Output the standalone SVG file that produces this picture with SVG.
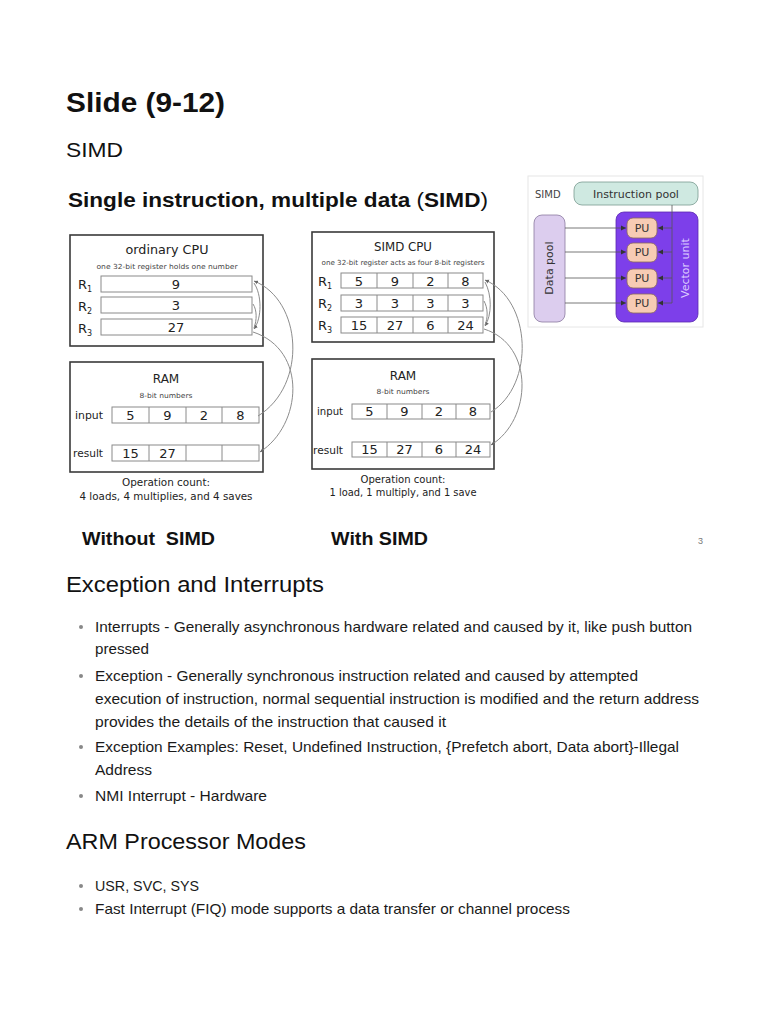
<svg xmlns="http://www.w3.org/2000/svg" width="768" height="1024" viewBox="0 0 768 1024">
<defs>
<style>
.h1{font-family:"Liberation Sans",Arial,sans-serif;font-weight:bold;font-size:28px;fill:#111}
.h2{font-family:"Liberation Sans",Arial,sans-serif;font-size:21px;fill:#111}
.h3{font-family:"Liberation Sans",Arial,sans-serif;font-size:22px;fill:#111}
.body{font-family:"Liberation Sans",Arial,sans-serif;font-size:15px;fill:#1a1a1a}
.bul{fill:#888}
.dv{font-family:"DejaVu Sans",sans-serif}
.box{fill:#fff;stroke:#3a3a3a;stroke-width:1.6}
.cell{fill:#fff;stroke:#8a8a8a;stroke-width:1}
.val{font-family:"DejaVu Sans",sans-serif;font-size:13px;fill:#222;text-anchor:middle}
.curve{fill:none;stroke:#8c8c8c;stroke-width:1}
.pu{fill:#f7cbb4;stroke:#8a6a5a;stroke-width:0.8}
.pul{font-family:"DejaVu Sans",sans-serif;font-size:11px;fill:#333;text-anchor:middle}
.ln{stroke:#555;stroke-width:0.8;fill:none}
.big{font-family:"Liberation Sans",Arial,sans-serif;font-weight:bold;font-size:19px;fill:#111}
</style>
<marker id="ah" markerWidth="6" markerHeight="6" refX="5" refY="3" orient="auto" markerUnits="userSpaceOnUse">
<path d="M0,0.5 L5,3 L0,5.5 Z" fill="#333"/>
</marker>
<marker id="ahs" markerWidth="5" markerHeight="5" refX="4" refY="2.5" orient="auto" markerUnits="userSpaceOnUse">
<path d="M0,0.5 L4,2.5 L0,4.5 Z" fill="#666"/>
</marker>
</defs>
<rect width="768" height="1024" fill="#fff"/>

<g id="page-headings">
<text class="h1" x="66" y="112" textLength="159" lengthAdjust="spacingAndGlyphs">Slide (9-12)</text>
<text class="h2" x="66" y="157" textLength="57" lengthAdjust="spacingAndGlyphs">SIMD</text>
</g>

<g id="figure-title">
<text x="68" y="207" font-family="Liberation Sans, Arial, sans-serif" font-size="20px" fill="#111" textLength="420" lengthAdjust="spacingAndGlyphs"><tspan font-weight="bold">Single instruction, multiple data </tspan><tspan>(</tspan><tspan font-weight="bold">SIMD</tspan><tspan>)</tspan></text>
</g>

<g id="ordinary-cpu">
<rect class="box" x="70" y="235" width="193" height="111"/>
<text class="dv" x="167" y="254" font-size="12" fill="#222" text-anchor="middle" textLength="83" lengthAdjust="spacingAndGlyphs">ordinary CPU</text>
<text class="dv" x="167" y="269" font-size="7" text-anchor="middle" textLength="141" lengthAdjust="spacingAndGlyphs" fill="#444">one 32-bit register holds one number</text>
<text class="dv" x="78" y="289" font-size="13" fill="#222">R<tspan font-size="8" dy="3">1</tspan></text>
<text class="dv" x="78" y="311" font-size="13" fill="#222">R<tspan font-size="8" dy="3">2</tspan></text>
<text class="dv" x="78" y="333" font-size="13" fill="#222">R<tspan font-size="8" dy="3">3</tspan></text>
<rect class="cell" x="101" y="276" width="151" height="16"/>
<rect class="cell" x="101" y="297" width="151" height="16"/>
<rect class="cell" x="101" y="319" width="151" height="16"/>
<text class="val" x="176" y="289">9</text>
<text class="val" x="176" y="310">3</text>
<text class="val" x="176" y="332">27</text>
</g>

<g id="ordinary-ram">
<rect class="box" x="70" y="362" width="193" height="110"/>
<text class="dv" x="166" y="383" font-size="12" fill="#222" text-anchor="middle">RAM</text>
<text class="dv" x="166" y="398" font-size="7" text-anchor="middle" fill="#444" textLength="53" lengthAdjust="spacingAndGlyphs">8-bit numbers</text>
<text class="dv" x="75" y="419" font-size="11" fill="#222" textLength="28" lengthAdjust="spacingAndGlyphs">input</text>
<text class="dv" x="73" y="457" font-size="11" fill="#222" textLength="30" lengthAdjust="spacingAndGlyphs">result</text>
<rect class="cell" x="112" y="407" width="147" height="16"/>
<path d="M149,407V423M186,407V423M222,407V423" stroke="#8a8a8a" stroke-width="1" fill="none"/>
<rect class="cell" x="112" y="445" width="147" height="16"/>
<path d="M149,445V461M186,445V461M222,445V461" stroke="#8a8a8a" stroke-width="1" fill="none"/>
<text class="val" x="130.5" y="420">5</text>
<text class="val" x="167.5" y="420">9</text>
<text class="val" x="204" y="420">2</text>
<text class="val" x="240.5" y="420">8</text>
<text class="val" x="130.5" y="458">15</text>
<text class="val" x="167.5" y="458">27</text>
<text class="dv" x="166" y="486" font-size="11" fill="#222" text-anchor="middle" textLength="88" lengthAdjust="spacingAndGlyphs">Operation count:</text>
<text class="dv" x="166" y="500" font-size="11" fill="#222" text-anchor="middle" textLength="173" lengthAdjust="spacingAndGlyphs">4 loads, 4 multiplies, and 4 saves</text>
</g>

<g id="simd-cpu">
<rect class="box" x="312" y="232" width="182" height="110"/>
<text class="dv" x="403" y="251" font-size="12" fill="#222" text-anchor="middle" textLength="58" lengthAdjust="spacingAndGlyphs">SIMD CPU</text>
<text class="dv" x="403" y="265" font-size="7" text-anchor="middle" fill="#444" textLength="163" lengthAdjust="spacingAndGlyphs">one 32-bit register acts as four 8-bit registers</text>
<text class="dv" x="318" y="286" font-size="13" fill="#222">R<tspan font-size="8" dy="3">1</tspan></text>
<text class="dv" x="318" y="308" font-size="13" fill="#222">R<tspan font-size="8" dy="3">2</tspan></text>
<text class="dv" x="318" y="330" font-size="13" fill="#222">R<tspan font-size="8" dy="3">3</tspan></text>
<rect class="cell" x="341" y="273" width="142" height="15"/>
<rect class="cell" x="341" y="295" width="142" height="16"/>
<rect class="cell" x="341" y="317" width="142" height="16"/>
<path d="M377,273V288M413,273V288M448,273V288M377,295V311M413,295V311M448,295V311M377,317V333M413,317V333M448,317V333" stroke="#8a8a8a" stroke-width="1" fill="none"/>
<text class="val" x="359" y="286">5</text>
<text class="val" x="395" y="286">9</text>
<text class="val" x="430.5" y="286">2</text>
<text class="val" x="465.5" y="286">8</text>
<text class="val" x="359" y="308">3</text>
<text class="val" x="395" y="308">3</text>
<text class="val" x="430.5" y="308">3</text>
<text class="val" x="465.5" y="308">3</text>
<text class="val" x="359" y="330">15</text>
<text class="val" x="395" y="330">27</text>
<text class="val" x="430.5" y="330">6</text>
<text class="val" x="465.5" y="330">24</text>
</g>

<g id="simd-ram">
<rect class="box" x="312" y="359" width="182" height="110"/>
<text class="dv" x="403" y="380" font-size="12" fill="#222" text-anchor="middle">RAM</text>
<text class="dv" x="403" y="394" font-size="7" text-anchor="middle" fill="#444" textLength="53" lengthAdjust="spacingAndGlyphs">8-bit numbers</text>
<text class="dv" x="317" y="415" font-size="11" fill="#222" textLength="26" lengthAdjust="spacingAndGlyphs">input</text>
<text class="dv" x="313" y="454" font-size="11" fill="#222" textLength="30" lengthAdjust="spacingAndGlyphs">result</text>
<rect class="cell" x="352" y="404" width="138" height="15"/>
<rect class="cell" x="352" y="442" width="138" height="15"/>
<path d="M387,404V419M422,404V419M456,404V419M387,442V457M422,442V457M456,442V457" stroke="#8a8a8a" stroke-width="1" fill="none"/>
<text class="val" x="369.5" y="416">5</text>
<text class="val" x="404.5" y="416">9</text>
<text class="val" x="439" y="416">2</text>
<text class="val" x="473" y="416">8</text>
<text class="val" x="369.5" y="454">15</text>
<text class="val" x="404.5" y="454">27</text>
<text class="val" x="439" y="454">6</text>
<text class="val" x="473" y="454">24</text>
<text class="dv" x="403" y="483" font-size="11" fill="#222" text-anchor="middle" textLength="85" lengthAdjust="spacingAndGlyphs">Operation count:</text>
<text class="dv" x="403" y="496" font-size="11" fill="#222" text-anchor="middle" textLength="147" lengthAdjust="spacingAndGlyphs">1 load, 1 multiply, and 1 save</text>
</g>

<g id="simd-schematic">
<rect x="528" y="176" width="175" height="151" fill="#fff" stroke="#e6e6e6" stroke-width="1"/>
<text class="dv" x="535" y="198" font-size="10" fill="#444">SIMD</text>
</g>
<g id="instruction-pool">
<rect x="574" y="182" width="124" height="23" rx="8" fill="#cfe9e1" stroke="#7a9a90" stroke-width="0.8"/>
<text class="dv" x="636" y="198" font-size="11" text-anchor="middle" fill="#333">Instruction pool</text>
</g>
<g id="data-pool">
<rect x="534" y="215" width="31" height="107" rx="8" fill="#dccdee" stroke="#8a7aa0" stroke-width="0.8"/>
<text class="dv" x="553" y="268" font-size="11" text-anchor="middle" fill="#333" transform="rotate(-90 553 268)">Data pool</text>
</g>
<g id="vector-unit">
<rect x="616" y="212" width="82" height="110" rx="8" fill="#7d3fea" stroke="#5a2ab0" stroke-width="0.8"/>
<text class="dv" x="689" y="268" font-size="11" text-anchor="middle" fill="#dccbff" transform="rotate(-90 689 268)">Vector unit</text>
</g>
<g id="pu1"><rect class="pu" x="627" y="218" width="30" height="20" rx="6"/><text class="pul" x="642" y="232">PU</text></g>
<g id="pu2"><rect class="pu" x="627" y="243" width="30" height="19" rx="6"/><text class="pul" x="642" y="256">PU</text></g>
<g id="pu3"><rect class="pu" x="627" y="269" width="30" height="19" rx="6"/><text class="pul" x="642" y="282">PU</text></g>
<g id="pu4"><rect class="pu" x="627" y="294" width="30" height="19" rx="6"/><text class="pul" x="642" y="307">PU</text></g>

<g id="connectors">
<path class="curve" d="M258,416 C308,385 302,300 254,281" marker-end="url(#ahs)"/>
<path class="curve" d="M253,332 C308,350 302,425 260,452" marker-end="url(#ahs)"/>
<path class="curve" d="M254,283 C262,295 262,318 254,329" marker-end="url(#ahs)"/>
<path class="curve" d="M253,304 C257,310 257,320 254,328"/>
<path class="curve" d="M491,412 C535,385 532,300 485,280" marker-end="url(#ahs)"/>
<path class="curve" d="M484,329 C535,345 532,420 491,445" marker-end="url(#ahs)"/>
<path class="curve" d="M485,282 C492,295 492,315 485,326" marker-end="url(#ahs)"/>
<path class="curve" d="M484,301 C488,308 488,318 485,325"/>
<path class="ln" d="M565,228H626" marker-end="url(#ah)"/>
<path class="ln" d="M565,252H626" marker-end="url(#ah)"/>
<path class="ln" d="M565,278H626" marker-end="url(#ah)"/>
<path class="ln" d="M565,303H626" marker-end="url(#ah)"/>
<path class="ln" d="M672,205V303" stroke="#ddd"/>
<path class="ln" d="M672,228H658" marker-end="url(#ah)"/>
<path class="ln" d="M672,252H658" marker-end="url(#ah)"/>
<path class="ln" d="M672,278H658" marker-end="url(#ah)"/>
<path class="ln" d="M672,303H658" marker-end="url(#ah)"/>
</g>

<g id="figure-captions">
<text class="big" x="82" y="545" xml:space="preserve" textLength="133" lengthAdjust="spacingAndGlyphs">Without  SIMD</text>
<text class="big" x="331" y="545" textLength="97" lengthAdjust="spacingAndGlyphs">With SIMD</text>
<text x="698" y="544" font-family="Liberation Sans, Arial, sans-serif" font-size="9" fill="#777">3</text>
</g>

<g id="section-exceptions">
<text class="h3" x="66" y="592" textLength="258" lengthAdjust="spacingAndGlyphs">Exception and Interrupts</text>
<circle class="bul" cx="81" cy="627" r="2"/>
<text class="body" x="95" y="632" textLength="597" lengthAdjust="spacingAndGlyphs">Interrupts - Generally asynchronous hardware related and caused by it, like push button</text>
<text class="body" x="95" y="654" textLength="54" lengthAdjust="spacingAndGlyphs">pressed</text>
<circle class="bul" cx="81" cy="676" r="2"/>
<text class="body" x="95" y="681" textLength="543" lengthAdjust="spacingAndGlyphs">Exception - Generally synchronous instruction related and caused by attempted</text>
<text class="body" x="95" y="704" textLength="604" lengthAdjust="spacingAndGlyphs">execution of instruction, normal sequential instruction is modified and the return address</text>
<text class="body" x="95" y="727" textLength="351" lengthAdjust="spacingAndGlyphs">provides the details of the instruction that caused it</text>
<circle class="bul" cx="81" cy="747" r="2"/>
<text class="body" x="95" y="752" textLength="584" lengthAdjust="spacingAndGlyphs">Exception Examples: Reset, Undefined Instruction, {Prefetch abort, Data abort}-Illegal</text>
<text class="body" x="95" y="775" textLength="57" lengthAdjust="spacingAndGlyphs">Address</text>
<circle class="bul" cx="81" cy="796" r="2"/>
<text class="body" x="95" y="801" textLength="172" lengthAdjust="spacingAndGlyphs">NMI Interrupt - Hardware</text>
</g>

<g id="section-arm-modes">
<text class="h3" x="66" y="849" textLength="240" lengthAdjust="spacingAndGlyphs">ARM Processor Modes</text>
<circle class="bul" cx="81" cy="886" r="2"/>
<text class="body" x="95" y="891" textLength="104" lengthAdjust="spacingAndGlyphs">USR, SVC, SYS</text>
<circle class="bul" cx="81" cy="909" r="2"/>
<text class="body" x="95" y="914" textLength="475" lengthAdjust="spacingAndGlyphs">Fast Interrupt (FIQ) mode supports a data transfer or channel process</text>
</g>
</svg>
